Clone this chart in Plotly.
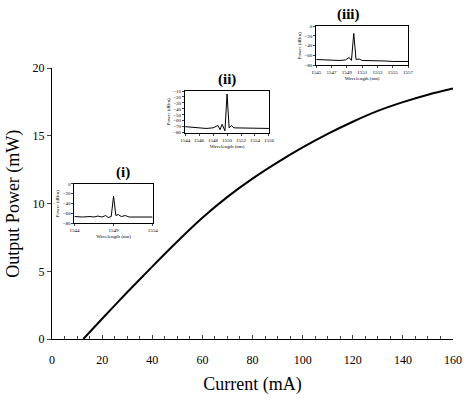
import plotly.graph_objects as go

current = [12.5, 20, 30, 40, 50, 60, 70, 80, 90, 100, 110, 120, 130, 140, 150, 160]
power = [0, 1.5, 3.45, 5.35, 7.2, 8.95, 10.5, 11.85, 13.05, 14.15, 15.15, 16.05, 16.85, 17.5, 18.05, 18.5]

wl1 = [1544, 1545, 1546, 1546.5, 1547, 1547.5, 1548, 1548.3, 1548.7, 1549, 1549.3, 1549.6, 1550, 1550.5, 1551, 1552, 1553, 1554]
p1 = [-66, -67, -66, -67, -65, -67, -64, -68, -66, -25, -64, -62, -66, -64, -67, -67, -67, -67]
wl2 = [1544, 1545, 1546, 1547, 1548, 1548.7, 1549, 1549.3, 1549.7, 1550, 1550.3, 1550.6, 1551, 1552, 1553, 1554, 1556]
p2 = [-70, -71, -72, -73, -72, -68, -75, -66, -77, -15, -72, -68, -72, -72, -73, -73, -73]
wl3 = [1545, 1546, 1547, 1548, 1548.8, 1549.3, 1549.6, 1549.9, 1550.2, 1550.6, 1551, 1552, 1553, 1554, 1555, 1557]
p3 = [-68, -69, -70, -70, -69, -64, -70, -15, -68, -67, -70, -70, -71, -71, -72, -72]

insets = [
    ("(i)", wl1, p1, [0.056, 0.251], [0.361, 0.485], [1544, 1554], [1544, 1549, 1554], [-80, 0], [0, -20, -40, -60, -80]),
    ("(ii)", wl2, p2, [0.332, 0.541], [0.645, 0.775], [1544, 1556], [1544, 1546, 1548, 1550, 1552, 1554, 1556], [-80, -10], [-10, -20, -30, -40, -50, -60, -70, -80]),
    ("(iii)", wl3, p3, [0.659, 0.888], [0.855, 0.978], [1545, 1557], [1545, 1547, 1549, 1551, 1553, 1555, 1557], [-80, 0], [0, -20, -40, -60, -80]),
]

fig = go.Figure()
fig.add_trace(go.Scatter(x=current, y=power, mode="lines", line=dict(color="black", width=2, shape="spline", smoothing=0.8)))

layout = dict(
    width=474, height=402, paper_bgcolor="white", plot_bgcolor="white", showlegend=False,
    margin=dict(l=52, r=12, t=15, b=63),
    font=dict(family="Liberation Serif", color="black"),
    xaxis=dict(range=[0, 160], dtick=20, showgrid=False, zeroline=False, showline=True, linecolor="black",
               ticks="inside", ticklen=4, minor=dict(dtick=5, ticks="inside", ticklen=3),
               tickfont=dict(size=12), ticklabelstandoff=10,
               title=dict(text="Current (mA)", font=dict(size=18), standoff=10)),
    yaxis=dict(domain=[0, 0.846], range=[0, 20], dtick=5, showgrid=False, zeroline=False, showline=True, linecolor="black",
               ticks="outside", ticklen=4, tickfont=dict(size=12),
               title=dict(text="Output Power (mW)", font=dict(size=18), standoff=8)),
)
annotations = []
for i, (lab, wl, p, dx, dy, xr, xt, yr, yt) in enumerate(insets):
    n = i + 2
    fig.add_trace(go.Scatter(x=wl, y=p, mode="lines", line=dict(color="black", width=1), xaxis=f"x{n}", yaxis=f"y{n}"))
    layout[f"xaxis{n}"] = dict(domain=dx, anchor=f"y{n}", range=xr, tickvals=xt, showgrid=False, zeroline=False,
                               showline=True, mirror=True, linecolor="black", ticks="outside", ticklen=2,
                               tickfont=dict(size=5), title=dict(text="Wavelength (nm)", font=dict(size=5), standoff=2))
    layout[f"yaxis{n}"] = dict(domain=dy, anchor=f"x{n}", range=yr, tickvals=yt, showgrid=False, zeroline=False,
                               showline=True, mirror=True, linecolor="black", ticks="outside", ticklen=2,
                               tickfont=dict(size=5), title=dict(text="Power (dBm)", font=dict(size=5), standoff=2))
    annotations.append(dict(text=f"<b>{lab}</b>", x=sum(dx) / 2, y=dy[1], xref="paper", yref="paper",
                            yanchor="bottom", showarrow=False, font=dict(size=15), yshift=1))
layout["annotations"] = annotations
fig.update_layout(**layout)
fig.write_html("out.html", config={"displayModeBar": False},
               post_script="document.body.style.margin='0';document.body.style.overflow='hidden';")
